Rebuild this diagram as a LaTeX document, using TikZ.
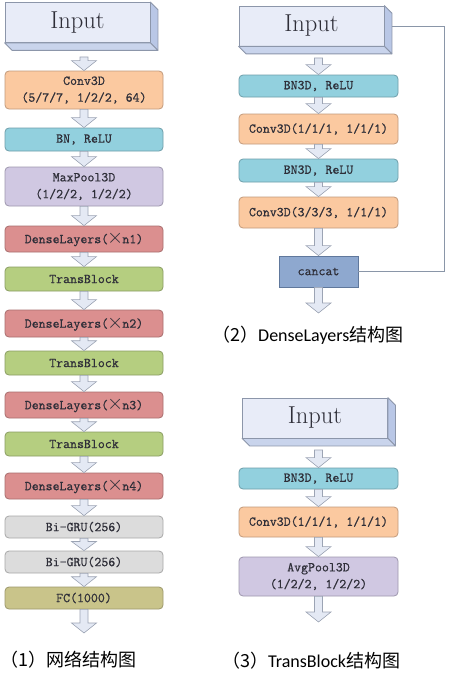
\documentclass[tikz,border=0pt]{standalone}
\usepackage{fontspec}
\newfontfamily\cjk{Noto Sans CJK SC}
\newfontfamily\capfont{Carlito}
\newfontfamily\boxfont[FakeBold=0.7]{Latin Modern Mono}
\usetikzlibrary{calc}
\definecolor{inF}{HTML}{E8ECF8}
\definecolor{inS}{HTML}{B9C7E6}
\definecolor{inB}{HTML}{C9D4EC}
\definecolor{inD}{HTML}{8C96AA}
\definecolor{convF}{HTML}{FBC9A0}
\definecolor{convD}{HTML}{C29A7C}
\definecolor{bnF}{HTML}{92D0DE}
\definecolor{bnD}{HTML}{6E9EAA}
\definecolor{mpF}{HTML}{D0C8E2}
\definecolor{mpD}{HTML}{9E97AE}
\definecolor{dnF}{HTML}{DB8F8F}
\definecolor{dnD}{HTML}{A86E6E}
\definecolor{tbF}{HTML}{B5CE80}
\definecolor{tbD}{HTML}{8A9D63}
\definecolor{grF}{HTML}{DCDCDC}
\definecolor{grD}{HTML}{A8A8A8}
\definecolor{fcF}{HTML}{C9C48A}
\definecolor{fcD}{HTML}{9C986B}
\definecolor{catF}{HTML}{8EA8CF}
\definecolor{catD}{HTML}{60789C}
\definecolor{arF}{HTML}{E4E9F4}
\definecolor{arD}{HTML}{9CA4B4}
\definecolor{lineC}{HTML}{8A96A8}
\definecolor{txt}{HTML}{2E2E38}
\newcommand{\bigx}{\makebox[14.2pt]{\fontsize{20}{20}\selectfont\raisebox{-0.6pt}{$\times$}}}
\tikzset{
  box/.style={rounded corners=4pt, line width=0.8pt, inner sep=0pt, align=center,
    font=\boxfont\fontsize{13.5}{16.8}\selectfont, text=txt},
  lbox/.style={box, minimum width=158pt},
  rbox/.style={box, minimum width=159pt},
  convbox/.style={fill=convF, draw=convD},
  bnbox/.style={fill=bnF, draw=bnD},
  mpbox/.style={fill=mpF, draw=mpD},
  dnbox/.style={fill=dnF, draw=dnD},
  tbbox/.style={fill=tbF, draw=tbD},
  grbox/.style={fill=grF, draw=grD},
  fcbox/.style={fill=fcF, draw=fcD},
  catbox/.style={box, rounded corners=0pt, fill=catF, draw=catD, minimum width=79pt, minimum height=31pt},
  inbox/.style={fill=inF, draw=inD, line width=0.8pt, inner sep=0pt, minimum width=145pt, minimum height=40pt,
    font=\rmfamily\fontsize{24.5}{26}\selectfont, text=txt},
  inside/.style={fill=inS, draw=inD, line width=0.8pt, line join=round},
  inbot/.style={fill=inB, draw=inD, line width=0.8pt, line join=round},
  barr/.style={draw=arD, fill=arF, line width=0.6pt, line join=miter},
  fbline/.style={draw=lineC, line width=0.7pt},
  capt/.style={anchor=west, inner sep=0pt, text=black, font=\cjk\fontsize{18}{20}\selectfont}
}
\newcommand{\blockarrow}[2]{%
  \draw[barr] let \p1=(#1), \p2=(#2), \n1={min(10,0.75*(\y1-\y2))} in
    (\x2-4pt,\y1) -- (\x2-4pt,{\y2+\n1*1pt}) -- (\x2-12.5pt,{\y2+\n1*1pt}) -- (\x2,\y2)
    -- (\x2+12.5pt,{\y2+\n1*1pt}) -- (\x2+4pt,{\y2+\n1*1pt}) -- (\x2+4pt,\y1) -- cycle;}
\newcommand{\inputbox}[1]{%
  \path[inside] (#1.north east) -- ++(7.5,7.5) -- ($(#1.south east)+(7.5,7.5)$) -- (#1.south east) -- cycle;
  \path[inbot] (#1.south west) -- (#1.south east) -- ++(7.5,7.5) -- ($(#1.south west)+(7.5,7.5)$) -- cycle;}
\begin{document}
\begin{tikzpicture}[x=1pt,y=-1pt]
\useasboundingbox[fill=white] (0,0) rectangle (451,685);

% ---------- left column ----------
\node[inbox] (in1) at (77.5,22.5) {Input};
\inputbox{in1}
\node[lbox,convbox,minimum height=38pt] (conv) at (84,90) {Conv3D\\(5/7/7, 1/2/2, 64)};
\node[lbox,bnbox,minimum height=23pt] (bn) at (84,139.5) {BN, ReLU};
\node[lbox,mpbox,minimum height=39pt] (mp) at (84,186.5) {MaxPool3D\\(1/2/2, 1/2/2)};
\node[lbox,dnbox,minimum height=26pt] (d1) at (84,239) {DenseLayers(\bigx n1)};
\node[lbox,tbbox,minimum height=24pt] (t1) at (84,279) {TransBlock};
\node[lbox,dnbox,minimum height=27pt] (d2) at (84,323.5) {DenseLayers(\bigx n2)};
\node[lbox,tbbox,minimum height=24pt] (t2) at (84,363) {TransBlock};
\node[lbox,dnbox,minimum height=26pt] (d3) at (84,405) {DenseLayers(\bigx n3)};
\node[lbox,tbbox,minimum height=24pt] (t3) at (84,444) {TransBlock};
\node[lbox,dnbox,minimum height=26pt] (d4) at (84,486) {DenseLayers(\bigx n4)};
\node[lbox,grbox,minimum height=22pt] (g1) at (84,527) {Bi-GRU(256)};
\node[lbox,grbox,minimum height=22pt] (g2) at (84,562) {Bi-GRU(256)};
\node[lbox,fcbox,minimum height=22pt] (fc) at (84,598) {FC(1000)};
\coordinate (s1) at (84,57);
\coordinate (e1) at (84,633);
\blockarrow{s1}{conv.north}
\blockarrow{conv.south}{bn.north}
\blockarrow{bn.south}{mp.north}
\blockarrow{mp.south}{d1.north}
\blockarrow{d1.south}{t1.north}
\blockarrow{t1.south}{d2.north}
\blockarrow{d2.south}{t2.north}
\blockarrow{t2.south}{d3.north}
\blockarrow{d3.south}{t3.north}
\blockarrow{t3.south}{d4.north}
\blockarrow{d4.south}{g1.north}
\blockarrow{g1.south}{g2.north}
\blockarrow{g2.south}{fc.north}
\blockarrow{fc.south}{e1}
\node[capt] (cap1) at (0,660) {（1）网络结构图};

% ---------- DenseLayers ----------
\node[inbox] (in2) at (311.5,26) {Input};
\inputbox{in2}
\node[rbox,bnbox,minimum height=22pt] (rb1) at (318.5,86) {BN3D, ReLU};
\node[rbox,convbox,minimum height=30pt] (rc1) at (318.5,129) {Conv3D(1/1/1, 1/1/1)};
\node[rbox,bnbox,minimum height=23pt] (rb2) at (318.5,170.5) {BN3D, ReLU};
\node[rbox,convbox,minimum height=31pt] (rc2) at (318.5,212.5) {Conv3D(3/3/3, 1/1/1)};
\node[catbox] (cat) at (318.5,271.5) {cancat};
\coordinate (s2) at (318.5,58);
\coordinate (e2) at (318.5,313);
\blockarrow{s2}{rb1.north}
\blockarrow{rb1.south}{rc1.north}
\blockarrow{rc1.south}{rb2.north}
\blockarrow{rb2.south}{rc2.north}
\blockarrow{rc2.south}{cat.north}
\blockarrow{cat.south}{e2}
\coordinate (sk) at ($(in2.east)+(7.5,0)$);
\draw[fbline] (sk) -- ++(52.5,0) |- (cat.east);
\node[capt] (cap2) at (212,335) {（2）{\capfont DenseLayers}结构图};

% ---------- TransBlock ----------
\node[inbox] (in3) at (315,418) {Input};
\inputbox{in3}
\node[rbox,bnbox,minimum height=21pt] (tb1) at (318.5,478.5) {BN3D, ReLU};
\node[rbox,convbox,minimum height=30pt] (tc1) at (318.5,522) {Conv3D(1/1/1, 1/1/1)};
\node[rbox,mpbox,minimum height=39pt] (tp1) at (318.5,576.5) {AvgPool3D\\(1/2/2, 1/2/2)};
\coordinate (s3) at (318.5,450);
\coordinate (e3) at (318.5,622);
\blockarrow{s3}{tb1.north}
\blockarrow{tb1.south}{tc1.north}
\blockarrow{tc1.south}{tp1.north}
\blockarrow{tp1.south}{e3}
\node[capt] (cap3) at (222,661) {（3）{\capfont TransBlock}结构图};
\end{tikzpicture}
\end{document}
